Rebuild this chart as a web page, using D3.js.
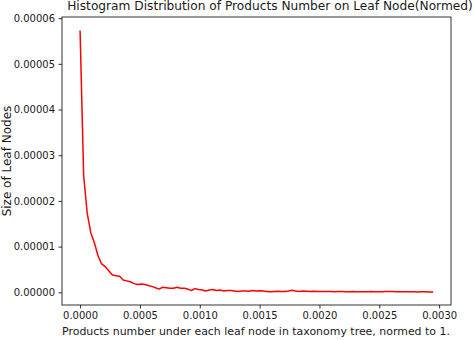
<!DOCTYPE html>
<html>
<head>
<meta charset="utf-8">
<script src="https://cdn.jsdelivr.net/npm/d3@7"></script>
<style>
  html, body { margin: 0; padding: 0; background: #fff; }
  svg { display: block; }
  text { font-family: "DejaVu Sans", sans-serif; fill: #1a1a1a; }
</style>
</head>
<body>
<svg id="chart" width="474" height="340"></svg>
<script>
// Bin positions (products number per leaf node, normed to 1)
const binX = [
  0.00000, 0.00003, 0.00006, 0.00009, 0.00012, 0.00015, 0.00018, 0.00021, 0.00024, 0.00027,
  0.00030, 0.00033, 0.00036, 0.00039, 0.00042, 0.00045, 0.00048, 0.00051, 0.00054, 0.00057,
  0.00060, 0.00063, 0.00066, 0.00069, 0.00072, 0.00075, 0.00078, 0.00081, 0.00084, 0.00087,
  0.00090, 0.00093, 0.00096, 0.00099, 0.00102, 0.00105, 0.00108, 0.00111, 0.00114, 0.00117,
  0.00120, 0.00123, 0.00126, 0.00129, 0.00132, 0.00135, 0.00138, 0.00141, 0.00144, 0.00147,
  0.00150, 0.00153, 0.00156, 0.00159, 0.00162, 0.00165, 0.00168, 0.00171, 0.00174, 0.00177,
  0.00180, 0.00183, 0.00186, 0.00189, 0.00192, 0.00195, 0.00198, 0.00201, 0.00204, 0.00207,
  0.00210, 0.00213, 0.00216, 0.00219, 0.00222, 0.00225, 0.00228, 0.00231, 0.00234, 0.00237,
  0.00240, 0.00243, 0.00246, 0.00249, 0.00252, 0.00255, 0.00258, 0.00261, 0.00264, 0.00267,
  0.00270, 0.00273, 0.00276, 0.00279, 0.00282, 0.00285, 0.00288, 0.00291, 0.00295
];
// Size of leaf nodes (in units of 1e-5)
const leafSize = [
  5.73, 2.55, 1.72, 1.30, 1.08, 0.80, 0.62, 0.56, 0.47, 0.38,
  0.36, 0.35, 0.27, 0.25, 0.23, 0.19, 0.17, 0.18, 0.17, 0.15,
  0.13, 0.10, 0.07, 0.11, 0.10, 0.09, 0.09, 0.11, 0.09, 0.09,
  0.07, 0.04, 0.08, 0.06, 0.05, 0.03, 0.05, 0.06, 0.04, 0.05,
  0.03, 0.04, 0.04, 0.03, 0.02, 0.03, 0.03, 0.025, 0.04, 0.03,
  0.035, 0.03, 0.02, 0.01, 0.02, 0.025, 0.02, 0.02, 0.03, 0.045,
  0.03, 0.02, 0.03, 0.025, 0.02, 0.025, 0.02, 0.02, 0.015, 0.02,
  0.015, 0.01, 0.015, 0.015, 0.01, 0.01, 0.015, 0.01, 0.01, 0.01,
  0.01, 0.015, 0.01, 0.01, 0.01, 0.015, 0.02, 0.015, 0.01, 0.01,
  0.01, 0.01, 0.01, 0.01, 0.005, 0.01, 0.01, 0.005, 0.005
];
const xTicks = [0, 0.0005, 0.0010, 0.0015, 0.0020, 0.0025, 0.0030];
const yTicks = [0, 0.00001, 0.00002, 0.00003, 0.00004, 0.00005, 0.00006];

const titleText = "Histogram Distribution of Products Number on Leaf Node(Normed)";
const xLabelText = "Products number under each leaf node in taxonomy tree, normed to 1.";
const yLabelText = "Size of Leaf Nodes";

const data = binX.map((v, i) => ({ x: v, y: leafSize[i] * 1e-5 }));

const svg = d3.select("#chart");
const mLeft = 62, mRight = 451, mTop = 17, mBottom = 305;

const xScale = d3.scaleLinear().domain([-0.000151, 0.003099]).range([mLeft, mRight]);
const yScale = d3.scaleLinear().domain([-0.00000278, 0.00006025]).range([mBottom, mTop]);

// y label (underneath tick labels, as in reference)
svg.append("text")
  .attr("transform", "translate(10.5,161) rotate(-90)")
  .attr("text-anchor", "middle")
  .style("font-size", "12px")
  .text(yLabelText);

// line
svg.append("path")
  .datum(data)
  .attr("fill", "none")
  .attr("stroke", "#ff0000")
  .attr("stroke-width", 1.5)
  .attr("stroke-linejoin", "round")
  .attr("d", d3.line().x(d => xScale(d.x)).y(d => yScale(d.y)));

// axes
const xAxis = svg.append("g")
  .attr("transform", `translate(0,${mBottom})`)
  .call(d3.axisBottom(xScale).tickValues(xTicks).tickFormat(d3.format(".4f")).tickSizeOuter(0).tickSize(3.5).tickPadding(3.5));
const yAxis = svg.append("g")
  .attr("transform", `translate(${mLeft},0)`)
  .call(d3.axisLeft(yScale).tickValues(yTicks).tickFormat(d3.format(".5f")).tickSizeOuter(0).tickSize(3.5).tickPadding(3.5));
[xAxis, yAxis].forEach(g => {
  g.select(".domain").remove();
  g.selectAll("line").attr("stroke", "#000").attr("stroke-width", 0.8);
  g.selectAll("text").style("font-family", "DejaVu Sans").style("font-size", "10px").attr("fill", "#1a1a1a");
});

// frame
svg.append("rect")
  .attr("x", mLeft).attr("y", mTop)
  .attr("width", mRight - mLeft).attr("height", mBottom - mTop)
  .attr("fill", "none").attr("stroke", "#000").attr("stroke-width", 0.8);

// title
const title = svg.append("text")
  .attr("x", 270).attr("y", 10)
  .attr("text-anchor", "middle")
  .style("font-size", "12px")
  .text(titleText);
const tw = title.node().getComputedTextLength();
title.style("font-size", (12 * 406 / tw) + "px");

// x label
const xl = svg.append("text")
  .attr("x", 256).attr("y", 335)
  .attr("text-anchor", "middle")
  .style("font-size", "10px")
  .text(xLabelText);
const xw = xl.node().getComputedTextLength();
xl.style("font-size", (10 * 388 / xw) + "px");
</script>
</body>
</html>
